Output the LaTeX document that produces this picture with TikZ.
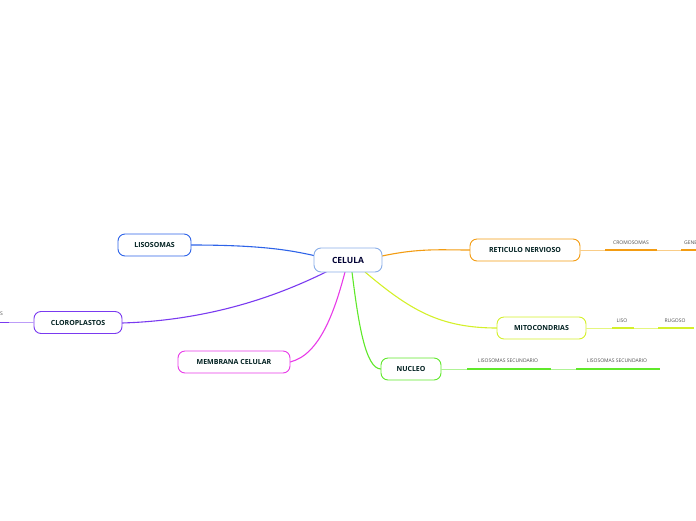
\documentclass[tikz,border=0pt]{standalone}
\usepackage{fontspec}
\setmainfont{Open Sans}
\begin{document}
\begin{tikzpicture}[x=1pt,y=-1pt,
  topic/.style={draw=#1,line width=0.9pt,rounded corners=7pt,fill=white,font=\bfseries\fontsize{7}{8}\selectfont,text=black!75!teal,minimum height=22pt,inner xsep=0pt},
  sub/.style={font=\fontsize{5}{6}\selectfont,text=black!70,inner sep=1pt},
  ul/.style={draw=#1,line width=1.3pt},
  conn/.style={draw=#1,line width=1.1pt},
  thin/.style={draw=#1,line width=0.6pt}]
\useasboundingbox (0,0) rectangle (696,520);
\definecolor{cblue}{HTML}{3C78D8}
\definecolor{corange}{HTML}{F39C12}
\definecolor{cyel}{HTML}{D4F02A}
\definecolor{cgreen}{HTML}{5FE82A}
\definecolor{cmag}{HTML}{E83AE8}
\definecolor{cpurp}{HTML}{7A3AF0}
\definecolor{cpblue}{HTML}{2D63E8}
% connectors
\coordinate (c0) at (348,260);
\draw[conn=cpblue] (191,245) .. controls (260,245) and (290,250) .. (316,256);
\draw[conn=cpurp] (122,323) .. controls (220,320) and (290,290) .. (330,270);
\draw[conn=cmag] (290,362) .. controls (320,355) and (335,310) .. (345,272);
\draw[conn=cgreen] (352,272) .. controls (358,320) and (365,369) .. (381,369);
\draw[conn=cyel] (365,272) .. controls (410,310) and (440,328) .. (497,328);
\draw[conn=corange] (382,256) .. controls (420,248) and (440,250) .. (470,250);
% central
\node[topic=cblue!60,minimum width=68pt,minimum height=24pt,font=\bfseries\fontsize{8.5}{9}\selectfont,text=black!80!blue] (celula) at (348,260) {CELULA};
\node[topic=cpblue,minimum width=73pt] (liso) at (154.5,245) {LISOSOMAS};
\node[topic=corange,minimum width=110pt] (ret) at (525,250) {RETICULO NERVIOSO};
\node[topic=cyel,minimum width=89pt] (mito) at (541.5,328) {MITOCONDRIAS};
\node[topic=cgreen,minimum width=60pt] (nuc) at (411,369) {NUCLEO};
\node[topic=cmag,minimum width=112pt] (memb) at (234,362) {MEMBRANA CELULAR};
\node[topic=cpurp,minimum width=88pt] (clor) at (78,322.5) {CLOROPLASTOS};
% subtopics
\node[sub] (crom) at (631,243) {CROMOSOMAS};
\node[sub,anchor=west] (gen) at (683,243) {GENES};
\node[sub] (lisoT) at (622,321) {LISO};
\node[sub] (rug) at (675,321) {RUGOSO};
\node[sub] (ls1) at (508,361) {LISOSOMAS SECUNDARIO};
\node[sub] (ls2) at (617,361) {LISOSOMAS SECUNDARIO};
\node[sub,anchor=east] (cs) at (4,314) {S};
% sub underlines & links
\draw[thin=corange!50] (ret.east) -- (605,250);
\draw[ul=corange] (605,250) -- (657,250);
\draw[thin=corange!50] (657,250) -- (681,250);
\draw[ul=corange] (681,250) -- (700,250);
\draw[thin=cyel!60] (mito.east) -- (612,328);
\draw[ul=cyel] (612,328) -- (634,328);
\draw[thin=cyel!60] (634,328) -- (658,328);
\draw[ul=cyel] (658,328) -- (694,328);
\draw[thin=cgreen!50] (nuc.east) -- (467,369);
\draw[ul=cgreen] (467,369) -- (551,369);
\draw[thin=cgreen!50] (551,369) -- (576,369);
\draw[ul=cgreen] (576,369) -- (660,369);
\draw[thin=cpurp!50] (clor.west) -- (9,322.5);
\draw[ul=cpurp] (9,322.5) -- (-2,322.5);
\end{tikzpicture}
\end{document}
